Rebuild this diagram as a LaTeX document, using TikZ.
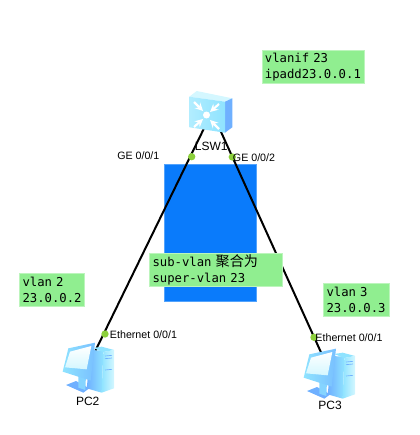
\documentclass[tikz,border=0pt]{standalone}
\usepackage{fontspec}
\usepackage{xcolor}
\setmainfont{Liberation Sans}
\newfontfamily\vlanfont{DejaVu Sans Mono}
\newfontfamily\cjk{Noto Sans CJK SC}
\definecolor{boxgreen}{HTML}{90EE90}
\definecolor{areablue}{HTML}{0A7BFB}
\definecolor{portgreen}{HTML}{8CD03C}
\definecolor{iconlight}{HTML}{D4F7FF}
\definecolor{iconmid}{HTML}{8FE3FF}
\definecolor{icondark}{HTML}{6FB0FF}
\tikzset{
  vlanbox/.style={draw=boxgreen!60!white, line width=0.4pt, fill=boxgreen, anchor=north west, align=left,
    minimum height=24.75pt, inner xsep=2.2pt, inner ysep=0pt, font=\vlanfont\fontsize{9.2}{12}\selectfont},
  port/.style={circle, fill=portgreen, inner sep=0pt, minimum size=5.5pt},
  portlabel/.style={inner sep=0pt, font=\fontsize{8}{9}\selectfont},
  devlabel/.style={inner sep=0pt, font=\fontsize{9}{10}\selectfont},
  device/.style={inner sep=0pt, minimum width=30pt, minimum height=30pt},
  link/.style={line width=1.5pt, black},
  pcicon/.pic={
    \begin{scope}[x=.25pt,y=-.25pt,shift={(-108,-150)}]
      \shade[left color=icondark, right color=iconmid] (122,90) -- (160,92) -- (155,218) -- (110,205) -- cycle;
      \fill[iconmid] (130,84) -- (155,80) -- (192,90) -- (160,96) -- cycle;
      \shade[left color=iconmid, right color=iconlight] (160,96) -- (192,90) -- (192,205) -- (155,218) -- cycle;
      \draw[icondark, line width=.5pt] (165,108) -- (186,106) (165,116) -- (186,114) (165,150) -- (186,148);
      \fill[icondark] (48,195) -- (78,183) -- (118,205) -- (100,218) -- cycle;
      \fill[iconmid!70!icondark] (85,160) -- (108,165) -- (106,210) -- (85,203) -- cycle;
      \shade[left color=iconmid, right color=icondark!70!iconmid] (55,85) -- (135,68) -- (122,182) -- (38,155) -- cycle;
      \shade[top color=white, bottom color=iconlight] (60,95) -- (124,78) -- (110,148) -- (45,142) -- cycle;
    \end{scope}
  }
}
\begin{document}
\begin{tikzpicture}[x=0.75pt,y=-0.75pt]
  \useasboundingbox (0,0) rectangle (420,435);
  \node [draw=areablue!70!white, fill=areablue, line width=0.4pt, minimum width=69.3pt, minimum height=103pt, inner sep=0pt] (vlanarea) at (210.5,233) {};

  \node [device] (lsw) at (212,112) {};
  \node [device] (pctwo) at (86,370) {};
  \node [device] (pcthree) at (329,370) {};

  \draw[link] (lsw.center) -- (pctwo.center);
  \draw[link] (lsw.center) -- (pcthree.center);

  % switch icon
  \fill[iconlight] (189.3,96.7) -- (196.7,91) -- (232.3,98.3) -- (225,101.7) -- cycle;
  \fill[icondark] (225,101.7) -- (232.3,98.3) -- (232.3,127.3) -- (225,132.7) -- cycle;
  \shade[left color=iconmid!50!iconlight, right color=iconmid] (189.3,96.7) -- (225,101.7) -- (225,132.7) -- (189.3,127.3) -- cycle;
  \fill[white] (206.5,115) circle (3.5);
  \foreach \px/\py/\qx/\qy in {194/102/203/111, 219/104/210/112, 194/127/203/119, 219/129/210/120}
    \draw[white, line width=1.6pt, -stealth] (\px,\py) -- (\qx,\qy);

  \pic at (pctwo.center) {pcicon};
  \pic at ([shift={(-2,6)}]pcthree.center) {pcicon};

  \node [port] (porta) at (191.7,156.7) {};
  \node [port] (portb) at (232.3,157) {};
  \node [port] (portc) at (105,334) {};
  \node [port] (portd) at (314,337.3) {};

  \node [devlabel] (lswname) at (211.3,146.7) {LSW1};
  \node [portlabel] (gea) at (138.3,156) {GE 0/0/1};
  \node [portlabel] (geb) at (254,158) {GE 0/0/2};
  \node [portlabel] (etha) at (143.5,335) {Ethernet 0/0/1};
  \node [portlabel] (ethb) at (349,337.7) {Ethernet 0/0/1};
  \node [devlabel] (pctwoname) at (87.7,401.3) {PC2};
  \node [devlabel] (pcthreename) at (330,405.7) {PC3};

  \node [vlanbox, text width=72.3pt] (ifbox) at (261.7,50) {vlanif 23\\ipadd23.0.0.1};
  \node [vlanbox, text width=44.1pt] (vlantwo) at (19.3,273.3) {vlan 2\\23.0.0.2};
  \node [vlanbox, text width=95.4pt] (aggbox) at (149.3,252.7) {sub-vlan {\cjk\fontsize{10.6}{12}\selectfont 聚合为}\\super-vlan 23};
  \node [vlanbox, text width=44.9pt] (vlanthree) at (323.3,283.3) {vlan 3\\23.0.0.3};
\end{tikzpicture}
\end{document}
